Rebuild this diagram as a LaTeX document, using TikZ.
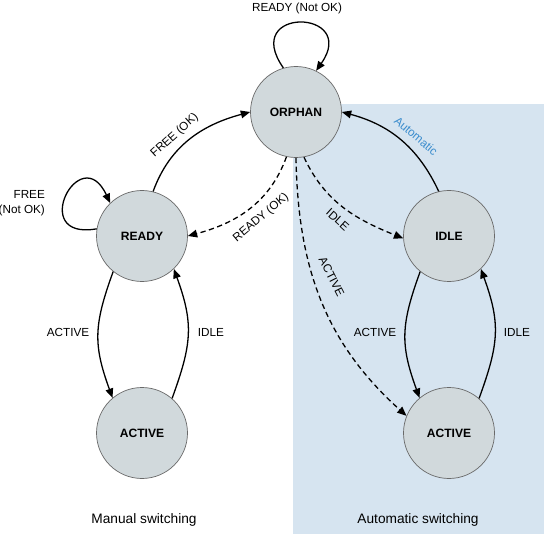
\documentclass[tikz,border=0pt]{standalone}
\usepackage{fontspec}
\setmainfont{Liberation Sans}
\usepackage{tikz}
\usetikzlibrary{arrows.meta}
\definecolor{stfill}{RGB}{209,217,220}
\definecolor{stline}{RGB}{105,105,105}
\definecolor{autobg}{RGB}{214,228,240}
\definecolor{autoblue}{RGB}{58,140,205}

\begin{document}
\begin{tikzpicture}[font=\fontsize{10}{12.8}\selectfont]
\tikzset{st/.style={circle,draw=stline,line width=0.6pt,fill=stfill,minimum size=2.73cm,inner sep=0pt,font=\fontsize{10.3}{12}\selectfont\bfseries},
  tr/.style={line width=1.1pt,-{Triangle[length=2.8mm,width=2.3mm]}},
  dtr/.style={tr,dash pattern=on 4.5pt off 3pt},
  caption/.style={font=\fontsize{11.7}{14}\selectfont}}
\useasboundingbox (0,0) rectangle (16.32,16.02);
% automatic region
\fill[autobg] (8.79,0) rectangle (16.32,12.9);
% states
\node[st] (orphan) at (8.88,12.66){ORPHAN};
\node[st] (ready) at (4.26,8.94){READY};
\node[st] (active1) at (4.26,3.03){ACTIVE};
\node[st] (idle) at (13.47,8.94){IDLE};
\node[st] (active2) at (13.47,3.03){ACTIVE};
% transitions out of orphan
\draw[tr] (orphan.106) to[out=125,in=55,looseness=5.9] (orphan.64);
\draw[tr] (ready.171) to[out=190,in=115,looseness=6.2] (ready.134);
\draw[tr] (ready.76) to[out=70,in=195] (orphan.180);
\draw[dtr] (orphan.258) to[out=250,in=15] (ready.0);
\draw[dtr] (orphan.280) to[out=295,in=158] (idle.183);
\draw[dtr] (orphan.270) to[out=271,in=138] (active2.158);
\draw[tr] (idle.103) to[out=115,in=-15] (orphan.0);
% switching pairs
\foreach \a/\b in {ready/active1,idle/active2}{
  \draw[tr] (\a.231) to[out=250,in=110,looseness=1.15] (\b.130);
  \draw[tr] (\b.49) to[out=70,in=-70,looseness=1.15] (\a.-46);
}
% labels
\node (lorphan) at (8.91,15.78){READY (Not OK)};
\node[align=right,anchor=east] (lfree) at (1.47,9.93){FREE\\(Not OK)};
\node[rotate=42] (lfreeok) at (5.24,11.95){FREE (OK)};
\node[rotate=40] (lreadyok) at (7.83,9.48){READY (OK)};
\node[rotate=-42] (lidle) at (10.13,9.43){IDLE};
\node[rotate=-63] (lactive) at (9.95,7.71){ACTIVE};
\node[rotate=-40,text=autoblue] (lauto) at (12.48,11.94){Automatic};
\node (lact1) at (2.04,6.06){ACTIVE};
\node (lidle1) at (6.33,6.06){IDLE};
\node (lact2) at (11.25,6.06){ACTIVE};
\node (lidle2) at (15.51,6.06){IDLE};
\node[caption] (manual) at (4.32,0.42){Manual switching};
\node[caption] (automatic) at (12.54,0.42){Automatic switching};
\end{tikzpicture}
\end{document}
